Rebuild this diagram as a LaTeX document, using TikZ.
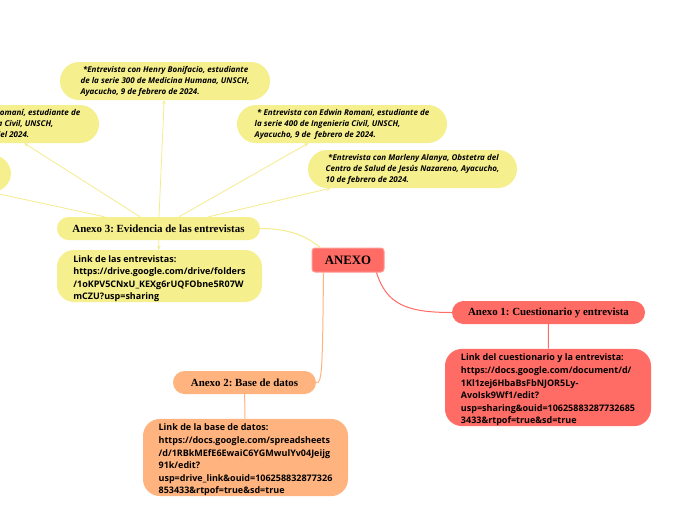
\documentclass[tikz,border=0pt]{standalone}
\usepackage{fontspec}
\setmainfont{Liberation Serif}
\newfontfamily\osans{Open Sans}
\usetikzlibrary{arrows.meta,calc}
\frenchspacing
\definecolor{ylw}{HTML}{F6EF8D}
\definecolor{ylwline}{HTML}{F5EC8C}
\definecolor{redn}{HTML}{FF6B65}
\definecolor{redborder}{HTML}{FF9C97}
\definecolor{orn}{HTML}{FFB47F}
\tikzset{
  interview/.style={fill=ylw, rounded corners=19pt, minimum width=210pt, minimum height=38pt,
    inner sep=0pt, align=left, font=\osans\bfseries\itshape\fontsize{8}{11}\selectfont},
  topic/.style={rounded corners=11.5pt, minimum height=23pt, inner sep=0pt,
    font=\bfseries\fontsize{10.9}{12}\selectfont},
  linkbox/.style={rounded corners=17pt, inner sep=0pt, align=left,
    font=\osans\bfseries\fontsize{9}{12.6}\selectfont},
  yl/.style={draw=ylwline, line width=0.8pt, -{Stealth[length=4pt,width=3.5pt]}},
  rl/.style={draw=redn, line width=1pt},
  ol/.style={draw=orn, line width=1pt},
}
\begin{document}
\begin{tikzpicture}[x=1pt,y=-1pt]
\useasboundingbox[fill=white] (0,0) rectangle (696,520);

% interview nodes
\node[interview] (henry) at (165,81) {\hspace*{2.5pt}*Entrevista con Henry Bonifacio, estudiante\\de la serie 300 de Medicina Humana, UNSCH,\\Ayacucho, 9 de febrero de 2024.};
\node[interview] (romani) at (-6,124) {\hspace*{2.5pt}*Entrevista con Edwin Romaní, estudiante de\\la serie 400 de Ingeniería Civil, UNSCH,\\Ayacucho, 9 de febrero del 2024.};
\node[interview, minimum width=212pt, minimum height=37pt] (other) at (-95,173.5) {};
\node[interview] (edwin) at (342,124) {\hspace*{2.5pt}* Entrevista con Edwin Romani, estudiante de\\la serie 400 de Ingenieria Civil, UNSCH,\\Ayacucho, 9 de\ \ febrero de 2024.};
\node[interview, minimum width=209pt] (marleny) at (412.5,169) {\hspace*{2.5pt}*Entrevista con Marleny Alanya, Obstetra del\\Centro de Salud de Jesús Nazareno, Ayacucho,\\10 de febrero de 2024.};

% topics
\node[topic, fill=ylw, minimum width=203pt] (anexo3) at (158.5,228.5) {Anexo 3: Evidencia de las entrevistas};
\node[linkbox, fill=ylw, minimum width=205pt, minimum height=52pt] (link3) at (159.5,276) {\rule{0pt}{12pt}Link de las entrevistas:\\https://drive.google.com/drive/folders\\/1oKPV5CNxU\_KEXg6rUQFObne5R07W\\mCZU?usp=sharing};

\node[fill=redn, draw=redborder, line width=1pt, rounded corners=3pt, minimum width=72pt, minimum height=24pt, inner sep=0pt, font=\bfseries\fontsize{12.8}{14}\selectfont] (anexo) at (348,260) {ANEXO};

\node[topic, fill=redn, minimum width=193pt] (anexo1) at (548.5,312.5) {Anexo 1: Cuestionario y entrevista};
\node[linkbox, fill=redn, minimum width=206pt, minimum height=77pt] (link1) at (548,387.5) {\rule{0pt}{12pt}Link del cuestionario y la entrevista:\\https://docs.google.com/document/d/\\1Kl1zej6HbaBsFbNJOR5Ly-\\AvoIsk9Wf1/edit?\\usp=sharing\&ouid=10625883287732685\\3433\&rtpof=true\&sd=true};

\node[topic, fill=orn, minimum width=143pt] (anexo2) at (244.5,382.5) {Anexo 2: Base de datos};
\node[linkbox, fill=orn, minimum width=205pt, minimum height=77pt] (link2) at (245.5,457.5) {\rule{0pt}{12pt}Link de la base de datos:\\https://docs.google.com/spreadsheets\\/d/1RBkMEfE6EwaiC6YGMwulYv04Jeijg\\91k/edit?\\usp=drive\_link\&ouid=106258832877326\\853433\&rtpof=true\&sd=true};

% connectors
\draw[yl] (anexo3) -- (henry);
\draw[yl] (anexo3) -- (romani);
\draw[yl] (anexo3) -- (other);
\draw[yl] (anexo3) -- (edwin);
\draw[yl] (anexo3) -- (marleny);
\draw[yl] (anexo3) -- (link3);

\draw[draw=ylwline, line width=1pt] (anexo3.east) .. controls ($(anexo3.east)+(38,0)$) and ($(anexo.north west)+(0,-6)$) .. ($(anexo.north west)+(9,0)$);
\draw[rl] ($(anexo.south east)+(-8,0)$) .. controls ($(anexo.south east)+(2,32)$) and ($(anexo1.west)+(-45,0)$) .. (anexo1.west);
\draw[ol] ($(anexo.south west)+(12,0)$) .. controls ($(anexo.south west)+(11,95)$) and ($(anexo2.east)+(6,2)$) .. (anexo2.east);
\draw[rl] (anexo1) -- (link1);
\draw[ol] (anexo2) -- (link2);
\end{tikzpicture}
\end{document}
